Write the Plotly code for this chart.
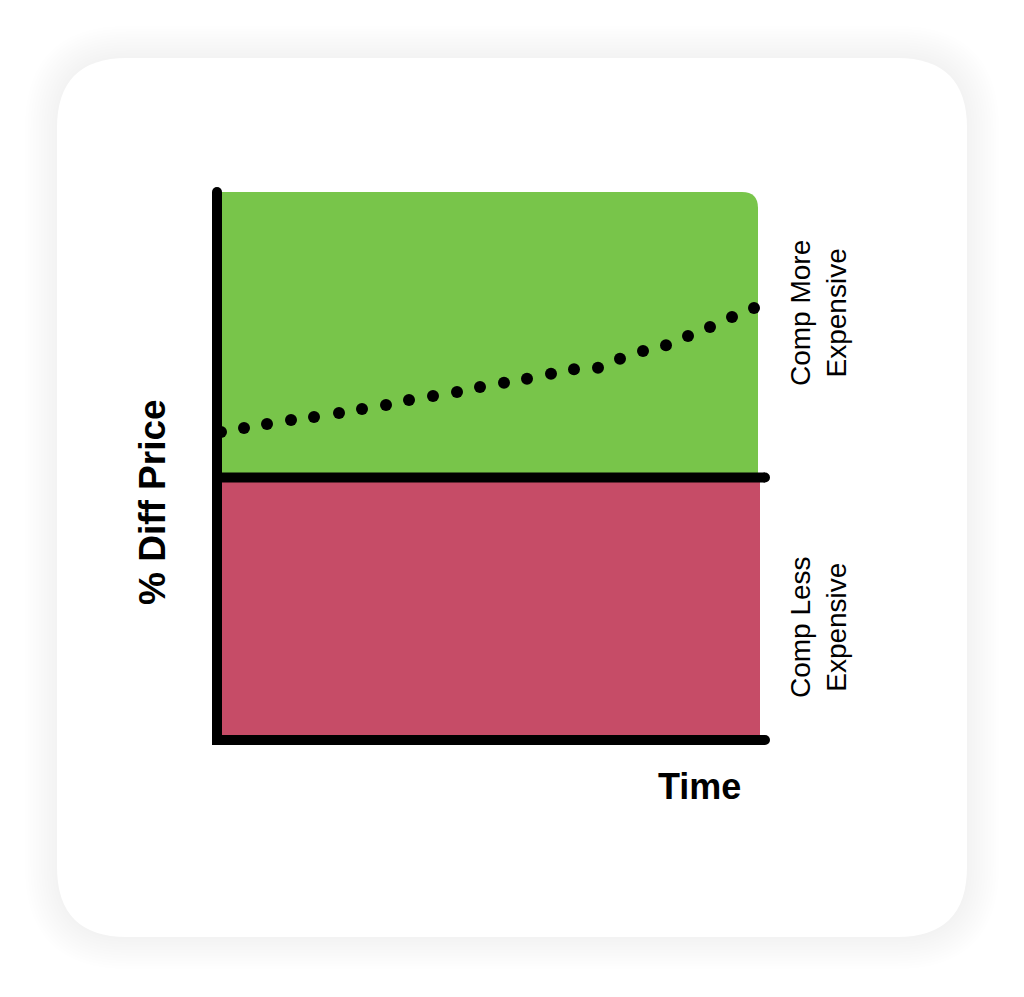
import plotly.graph_objects as go

# dotted trend: % price difference over time (axes use 1 unit = 10 px)
time = [0.4, 2.7, 5.0, 7.4, 9.7, 12.2, 14.5, 16.9, 19.2, 21.6, 24.0, 26.3,
        28.7, 31.0, 33.4, 35.7, 38.1, 40.3, 42.6, 44.9, 47.1, 49.3, 51.5, 53.7]
diff_pct = [4.55, 4.95, 5.35, 5.75, 6.05, 6.45, 6.85, 7.25, 7.75, 8.15, 8.55, 9.05,
            9.48, 9.88, 10.38, 10.82, 10.98, 11.88, 12.65, 13.22, 14.15, 15.05, 16.05, 16.95]

# chart extents
time_end = 54.9
pct_top = 28.55
pct_bottom = -26.25

zone_labels = ["Comp More<br>Expensive", "Comp Less<br>Expensive"]
x_title = "Time"
y_title = "% Diff Price"

GREEN = "#78C54A"
RED = "#C64C67"
FONT = "Liberation Sans, Arial, sans-serif"


def rounded_rect(x0, y0, x1, y1, r, corners=("tl", "tr", "br", "bl")):
    # svg path for a rect with optional rounded corners (data coords)
    rtl = r if "tl" in corners else 0
    rtr = r if "tr" in corners else 0
    rbr = r if "br" in corners else 0
    rbl = r if "bl" in corners else 0
    return (f"M {x0 + rtl},{y1} L {x1 - rtr},{y1} Q {x1},{y1} {x1},{y1 - rtr} "
            f"L {x1},{y0 + rbr} Q {x1},{y0} {x1 - rbr},{y0} "
            f"L {x0 + rbl},{y0} Q {x0},{y0} {x0},{y0 + rbl} "
            f"L {x0},{y1 - rtl} Q {x0},{y1} {x0 + rtl},{y1} Z")


shapes = []

# card shadow + card
cx0, cy0, cx1, cy1 = -16.0, -45.95, 75.0, 41.95
for i in range(12, 0, -1):
    d = i * 0.27
    shapes.append(dict(type="path", path=rounded_rect(cx0 - d, cy0 - d, cx1 + d, cy1 + d, 7 + d),
                       fillcolor="rgba(0,0,0,0.0035)", line_width=0, layer="below"))
shapes.append(dict(type="path", path=rounded_rect(cx0, cy0, cx1, cy1, 7),
                   fillcolor="white", line_width=0, layer="below"))

# zones
shapes.append(dict(type="path", path=rounded_rect(0.5, 0, 54.1, pct_top, 1.6, corners=("tr",)),
                   fillcolor=GREEN, line_width=0, layer="below"))
shapes.append(dict(type="rect", x0=0.5, x1=54.3, y0=pct_bottom, y1=0,
                   fillcolor=RED, line_width=0, layer="below"))

# axis lines
shapes.append(dict(type="line", x0=0, x1=0, y0=pct_bottom - 0.5, y1=pct_top,
                   line=dict(color="black", width=10)))
shapes.append(dict(type="line", x0=0, x1=time_end - 0.1, y0=0, y1=0,
                   line=dict(color="black", width=10)))
shapes.append(dict(type="line", x0=-0.5, x1=time_end - 0.1, y0=pct_bottom, y1=pct_bottom,
                   line=dict(color="black", width=10)))
# round caps
for cx, cy in [(0, pct_top), (time_end - 0.1, 0), (time_end - 0.1, pct_bottom)]:
    shapes.append(dict(type="circle", x0=cx - 0.5, x1=cx + 0.5, y0=cy - 0.5, y1=cy + 0.5,
                       fillcolor="black", line_width=0))

fig = go.Figure()
fig.add_trace(go.Scatter(
    x=time, y=diff_pct, mode="markers",
    marker=dict(color="black", size=12, line_width=0),
    hoverinfo="skip", showlegend=False
))

annotations = [
    dict(x=-6.5, y=-2.45, text=y_title, textangle=-90,
         font=dict(family=FONT, size=37, color="black", weight="bold")),
    dict(x=48.2, y=-30.9, text=x_title,
         font=dict(family=FONT, size=36, color="black", weight="bold")),
    dict(x=60.1, y=16.45, text=zone_labels[0], textangle=-90,
         font=dict(family=FONT, size=28, color="black")),
    dict(x=60.1, y=-14.95, text=zone_labels[1], textangle=-90,
         font=dict(family=FONT, size=28, color="black")),
]
for a in annotations:
    a.update(xref="x", yref="y", showarrow=False, xanchor="center", yanchor="middle")

fig.update_layout(
    width=1024, height=997,
    margin=dict(l=0, r=0, t=0, b=0),
    paper_bgcolor="white", plot_bgcolor="white",
    # the page adds an 8 px body margin, so ranges are shifted by 0.8 units
    xaxis=dict(range=[-20.9, 81.5], visible=False, fixedrange=True),
    yaxis=dict(range=[-52.75, 46.95], visible=False, fixedrange=True),
    shapes=shapes, annotations=annotations,
    showlegend=False
)

fig.write_html("out.html")
